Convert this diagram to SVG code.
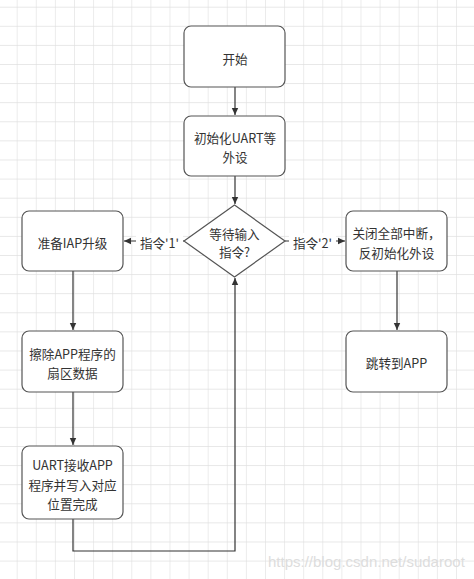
<svg xmlns="http://www.w3.org/2000/svg" width="474" height="579" viewBox="0 0 474 579">
<style>
.node{fill:#fff;stroke:#555;stroke-width:1.2}
.t{font-family:"Noto Sans CJK SC","Microsoft YaHei",sans-serif;font-size:12.6px;fill:#333;text-anchor:middle;dominant-baseline:central}
.e{fill:none;stroke:#333;stroke-width:1.2}
.lbl{fill:#fff}
.wm{font-family:"Liberation Sans",sans-serif;font-size:15px;fill:#ddd}
</style>
<defs>
<pattern id="grid" x="16.7" y="6.7" width="19.1" height="19.1" patternUnits="userSpaceOnUse">
<path d="M0 0H19.1M0 0V19.1" fill="none" stroke="#e0e0e0" stroke-width="1.2"/>
</pattern>
<marker id="ar" markerWidth="8" markerHeight="8" refX="7" refY="4" orient="auto" markerUnits="userSpaceOnUse">
<path d="M0 0.8L7 4L0 7.2Z" fill="#333"/>
</marker>
</defs>
<rect width="474" height="579" fill="#fff"/>
<rect width="474" height="579" fill="url(#grid)"/>
<text class="wm" x="268" y="567">https://blog.csdn.net/sudaroot</text>
<g id="connectors">
<path class="e" d="M235 87V115" marker-end="url(#ar)"/>
<path class="e" d="M235 176V204" marker-end="url(#ar)"/>
<path class="e" d="M184 241H124" marker-end="url(#ar)"/>
<path class="e" d="M285 241H345" marker-end="url(#ar)"/>
<path class="e" d="M73 271V330" marker-end="url(#ar)"/>
<path class="e" d="M73 392V445" marker-end="url(#ar)"/>
<path class="e" d="M73 519V551H235V278" marker-end="url(#ar)"/>
<path class="e" d="M397 271V330" marker-end="url(#ar)"/>
<rect class="lbl" x="136" y="233" width="47" height="17"/>
<text class="t" x="159.5" y="242">指令'1'</text>
<rect class="lbl" x="289" y="233" width="47" height="17"/>
<text class="t" x="312.5" y="242">指令'2'</text>
</g>
<g id="start">
<rect class="node" x="184" y="26" width="101" height="61" rx="7"/>
<text class="t" x="235" y="58">开始</text>
</g>
<g id="init">
<rect class="node" x="184" y="116" width="101" height="60" rx="7"/>
<text class="t" x="235" y="137">初始化UART等</text>
<text class="t" x="235" y="156">外设</text>
</g>
<g id="wait">
<path class="node" d="M234.5 205L285 241L234.5 277L184 241Z"/>
<text class="t" x="234.5" y="233">等待输入</text>
<text class="t" x="234.5" y="251">指令?</text>
</g>
<g id="prepare">
<rect class="node" x="22" y="211" width="101" height="60" rx="7"/>
<text class="t" x="72.5" y="242">准备IAP升级</text>
</g>
<g id="close">
<rect class="node" x="346" y="211" width="101" height="60" rx="7"/>
<text class="t" x="396.5" y="232">关闭全部中断，</text>
<text class="t" x="396.5" y="252">反初始化外设</text>
</g>
<g id="erase">
<rect class="node" x="22" y="331" width="101" height="61" rx="7"/>
<text class="t" x="72.5" y="353">擦除APP程序的</text>
<text class="t" x="72.5" y="372">扇区数据</text>
</g>
<g id="receive">
<rect class="node" x="22" y="446" width="101" height="73" rx="7"/>
<text class="t" x="72.5" y="464">UART接收APP</text>
<text class="t" x="72.5" y="484">程序并写入对应</text>
<text class="t" x="72.5" y="503">位置完成</text>
</g>
<g id="jump">
<rect class="node" x="346" y="331" width="101" height="61" rx="7"/>
<text class="t" x="396.5" y="362">跳转到APP</text>
</g>
</svg>
